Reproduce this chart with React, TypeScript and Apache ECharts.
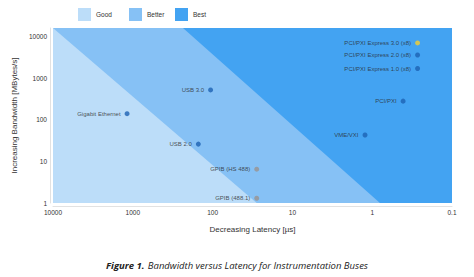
import React, { useEffect, useRef } from 'react';
import * as echarts from 'echarts';

// Bands (Good / Better / Best) and their colours
const bandNames = ['Good', 'Better', 'Best'];
const bandColors = ['#BCDDF9', '#86C1F5', '#43A3F2'];
// band edges, as [latency µs, bandwidth MB/s]
const bestEdge = [[10000, 16000], [0.1, 16000]];
const betterEdge = [[10000, 16000], [235, 16000], [0.8, 1]];
const goodEdge = [[10000, 16000], [28, 1]];

// Instrumentation buses
const busNames = [
  'PCI/PXI Express 3.0 (x8)',
  'PCI/PXI Express 2.0 (x8)',
  'PCI/PXI Express 1.0 (x8)',
  'PCI/PXI',
  'VME/VXI',
  'USB 3.0',
  'Gigabit Ethernet',
  'USB 2.0',
  'GPIB (HS 488)',
  'GPIB (488.1)',
];
const busLatency = [0.27, 0.27, 0.27, 0.41, 1.23, 106, 1180, 151, 28, 28];
const busBandwidth = [7000, 3600, 1700, 280, 43, 520, 140, 26, 6.5, 1.3];
const busKinds = ['new', 'blue', 'blue', 'blue', 'blue', 'blue', 'blue', 'blue', 'legacy', 'legacy'];
const kindColors: Record<string, string> = { new: '#F7CE2E', blue: '#1D62B3', legacy: '#9A9290' };

const xTickLabels = ['10000', '1000', '100', '10', '1', '0.1'];
const yTickLabels = ['1', '10', '100', '1000', '10000'];

const xAxisName = 'Decreasing Latency [µs]';
const yAxisName = 'Increasing Bandwidth [MBytes/s]';
const caption = 'Bandwidth versus Latency for Instrumentation Buses';

const FONT = '"Liberation Sans", Arial, sans-serif';

function decadeLabel(list: string[]) {
  return (v: number) => {
    const s = String(+v.toPrecision(6));
    return list.indexOf(s) >= 0 ? s : '';
  };
}

export default function App() {
  const ref = useRef<HTMLDivElement>(null);
  useEffect(() => {
    if (!ref.current) return;
    const chart = echarts.init(ref.current, undefined, { renderer: 'svg' });
    const legendLefts = [78, 129, 175];
    const bandEdges = [goodEdge, betterEdge, bestEdge];
    const bandSeries = [2, 1, 0].map((i) => ({
      type: 'line',
      name: bandNames[i],
      data: bandEdges[i],
      symbol: 'none',
      silent: true,
      color: bandColors[i],
      itemStyle: { color: bandColors[i] },
      lineStyle: { width: 0, opacity: 0 },
      areaStyle: { color: bandColors[i], opacity: 1, origin: 'start' },
      emphasis: { disabled: true },
      z: 1,
    }));
    chart.setOption({
      animation: false,
      backgroundColor: '#ffffff',
      textStyle: { fontFamily: FONT },
      grid: { left: 53, right: 22, top: 28, bottom: 74, outerBoundsMode: 'none', containLabel: false },
      legend: bandNames.map((n, i) => ({
        data: [n],
        left: legendLefts[i],
        top: 8,
        padding: 0,
        icon: 'rect',
        itemWidth: 13,
        itemHeight: 13,
        selectedMode: false,
        textStyle: { fontSize: 6.5, color: '#333', fontFamily: FONT },
      })),
      xAxis: {
        type: 'log',
        logBase: 10,
        min: 0.1,
        max: 10000,
        inverse: true,
        offset: 3,
        name: xAxisName,
        nameLocation: 'middle',
        nameGap: 19,
        nameTextStyle: { fontSize: 8, color: '#333', fontFamily: FONT },
        axisLine: { show: true, lineStyle: { color: '#e2e2e2', width: 1 } },
        axisTick: { show: false },
        splitLine: { show: false },
        axisLabel: { fontSize: 6.5, color: '#333', margin: 3, formatter: decadeLabel(xTickLabels), showMinLabel: true, showMaxLabel: true },
      },
      yAxis: {
        type: 'log',
        logBase: 10,
        min: 1,
        max: 16000,
        offset: 3,
        name: yAxisName,
        nameLocation: 'middle',
        nameGap: 31,
        nameTextStyle: { fontSize: 8, color: '#333', fontFamily: FONT },
        axisLine: { show: true, lineStyle: { color: '#e2e2e2', width: 1 } },
        axisTick: { show: false },
        splitLine: { show: false },
        axisLabel: { fontSize: 6.5, color: '#333', margin: 3, formatter: decadeLabel(yTickLabels) },
      },
      series: [
        ...bandSeries,
        {
          type: 'scatter',
          name: 'Buses',
          symbolSize: 5,
          z: 5,
          data: busNames.map((n, i) => ({
            name: n,
            value: [busLatency[i], busBandwidth[i]],
            itemStyle: { color: kindColors[busKinds[i]] },
          })),
          label: {
            show: true,
            position: 'left',
            distance: 4,
            formatter: '{b}',
            fontSize: 6,
            color: '#2a2a2a',
            fontFamily: FONT,
          },
          emphasis: { disabled: true },
        },
      ],
      graphic: [
        {
          type: 'text',
          x: 237,
          y: 265,
          style: {
            text: '{b|Figure 1.} {i|' + caption + '}',
            align: 'center',
            verticalAlign: 'middle',
            rich: {
              b: { fontFamily: '"Open Sans", sans-serif', fontStyle: 'italic', fontWeight: 'bold', fontSize: 9.5, fill: '#222' },
              i: { fontFamily: '"Open Sans", sans-serif', fontStyle: 'italic', fontSize: 9.5, fill: '#222' },
            },
          },
        },
      ],
    });
    return () => chart.dispose();
  }, []);
  return <div ref={ref} style={{ position: 'fixed', left: 0, top: 0, width: 474, height: 277 }} />;
}
